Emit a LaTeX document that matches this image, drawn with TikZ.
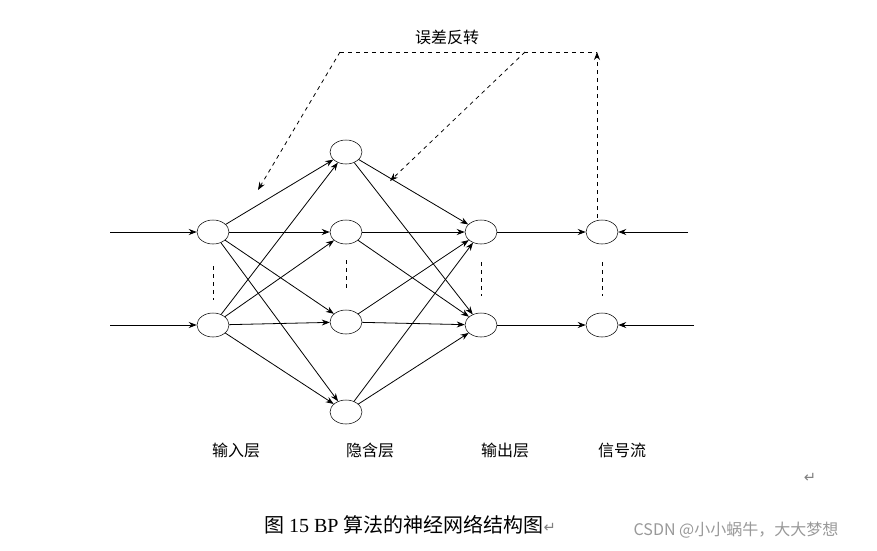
\documentclass[tikz,border=0pt]{standalone}
\usepackage{fontspec}
\setmainfont{Liberation Serif}
\newfontfamily\cjk{Noto Sans CJK SC}
\newfontfamily\djv{DejaVu Sans}
\usetikzlibrary{arrows.meta,shapes.geometric}
\begin{document}
\begin{tikzpicture}[x=0.75pt,y=-0.75pt,
  neuron/.style={draw,ellipse,minimum width=24pt,minimum height=18pt,inner sep=0pt},
  conn/.style={-{Stealth[length=6pt,width=4.5pt]},line width=0.6pt},
  dsh/.style={dashed,line width=0.6pt},
  lbl/.style={font=\cjk\fontsize{12}{12}\selectfont}]
\useasboundingbox (0,0) rectangle (877,550);
\fill[white] (0,0) rectangle (877,550);
\node[neuron] (i1) at (213,232) {};
\node[neuron] (i2) at (213,325) {};
\node[neuron] (h1) at (346,152) {};
\node[neuron] (h2) at (346,232) {};
\node[neuron] (h3) at (346,322) {};
\node[neuron] (h4) at (346,412) {};
\node[neuron] (o1) at (481,232) {};
\node[neuron] (o2) at (481,325) {};
\node[neuron] (s1) at (602,232) {};
\node[neuron] (s2) at (602,325) {};
\coordinate (a1) at (110,232); \coordinate (a2) at (110,325);
\coordinate (b1) at (688,232); \coordinate (b2) at (694,325);
\draw[conn] (a1) -- (i1); \draw[conn] (a2) -- (i2);
\draw[conn] (b1) -- (s1); \draw[conn] (b2) -- (s2);
\draw[conn] (o1) -- (s1); \draw[conn] (o2) -- (s2);
\foreach \i in {i1,i2} \foreach \h in {h1,h2,h3,h4} \draw[conn] (\i) -- (\h);
\foreach \h in {h1,h2,h3,h4} \foreach \o in {o1,o2} \draw[conn] (\h) -- (\o);
\foreach \x/\ya/\yb in {213/266/300,346/260/290,481/262/296,602/262/296}
  \draw[dsh] (\x,\ya) -- (\x,\yb);
\coordinate (t0) at (340,52); \coordinate (t1) at (525,52); \coordinate (t2) at (597,52);
\coordinate (e1) at (258,190); \coordinate (e2) at (390,181);
\coordinate (sb) at (597,218);
\draw[dsh] (t0) -- (t2);
\draw[dsh,conn] (sb) -- (t2);
\draw[dsh,conn] (t0) -- (e1);
\draw[dsh,conn] (t1) -- (e2);
\node[lbl] (err) at (447,37) {误差反转};
\node[lbl] (L1) at (236,450) {输入层};
\node[lbl] (L2) at (370,450) {隐含层};
\node[lbl] (L3) at (505,450) {输出层};
\node[lbl] (L4) at (622,450) {信号流};
\node[text=gray,font=\djv\fontsize{11}{11}\selectfont] (ret) at (810,478) {↵};
\node[font=\fontsize{15}{15}\selectfont] (cap) at (410,525) {{\cjk 图} 15 BP {\cjk 算法的神经网络结构图}\textcolor{gray}{\djv\fontsize{11}{11}\selectfont ↵}};
\node[text=gray!80,font=\cjk\fontsize{12}{12}\selectfont] (wm) at (736,530) {CSDN @小小蜗牛，大大梦想};
\end{tikzpicture}
\end{document}
